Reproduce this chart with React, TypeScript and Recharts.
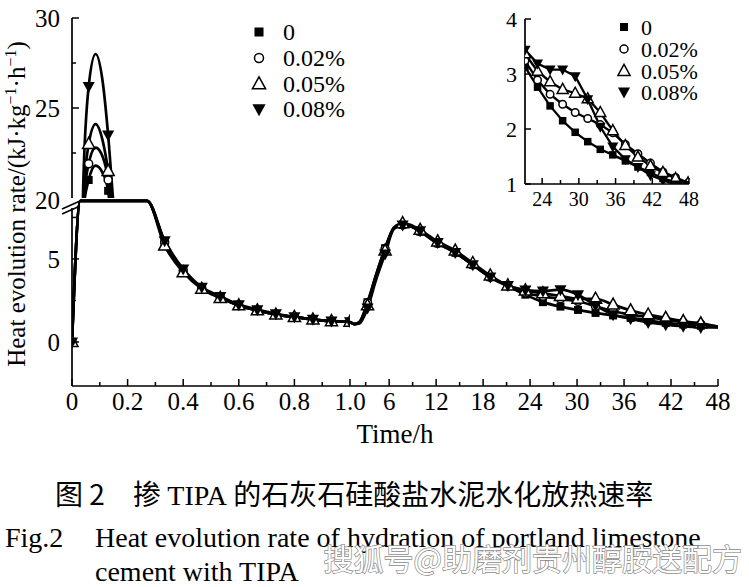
import React from 'react';
import { LineChart, Line, XAxis, YAxis } from 'recharts';

const FONT = '"Liberation Serif", "Times New Roman", serif';
const CJK = '"Noto Sans CJK SC", sans-serif';

// ---------------- data ----------------
const seriesNames = ['0', '0.02%', '0.05%', '0.08%'];
const seriesKinds = ['square', 'circle', 'up', 'down'];

// 0 – 1 h (left part of the broken time axis)
const earlyTime = [0, 0.03, 0.04, 0.06, 0.085, 0.11, 0.13, 0.15, 0.2, 0.27, 0.3333, 0.4, 0.4667, 0.5333, 0.6, 0.6667, 0.7333, 0.8, 0.8667, 0.9333, 1.0];
const earlyRate0 = [0, 10, 19.2, 21.0, 21.8, 21.4, 20.4, 17, 12, 8.7, 6.0, 4.3, 3.25, 2.7, 2.2, 1.9, 1.65, 1.5, 1.35, 1.25, 1.22];
const earlyRate002 = [0, 10, 19.5, 21.9, 22.8, 22.3, 21.0, 18, 12.5, 8.7, 6.0, 4.3, 3.25, 2.7, 2.2, 1.9, 1.65, 1.5, 1.35, 1.25, 1.22];
const earlyRate005 = [0, 10, 19.8, 23.0, 24.1, 23.2, 21.5, 19, 13, 8.8, 5.8, 4.2, 3.2, 2.65, 2.2, 1.9, 1.65, 1.5, 1.35, 1.25, 1.22];
const earlyRate008 = [0, 10, 20.5, 26.2, 28.0, 26.5, 23.5, 19.5, 13.5, 8.8, 6.1, 4.4, 3.3, 2.75, 2.25, 1.95, 1.7, 1.52, 1.37, 1.27, 1.22];
const earlyMarkTimes = [0, 0.06, 0.13, 0.3333, 0.4, 0.4667, 0.5333, 0.6, 0.6667, 0.7333, 0.8, 0.8667, 0.9333, 1.0];

// 1 – 48 h (right part of the broken time axis)
const lateTime = [1.0, 1.6, 2.2, 3.24, 4.3, 5.48, 6.6, 7.72, 8.8, 9.96, 12.2, 14.44, 16.68, 18.92, 21.16, 23.4, 25.64, 27.88, 30.12, 32.36, 34.6, 36.84, 39.08, 41.32, 43.56, 45.8, 48];
const lateRate0 = [1.22, 1.08, 1.2, 2.4, 4.0, 5.65, 6.85, 7.05, 6.95, 6.65, 5.94, 5.38, 4.64, 3.9, 3.37, 2.85, 2.4, 2.13, 1.93, 1.75, 1.6, 1.45, 1.3, 1.15, 1.05, 0.98, 0.9];
const lateRate002 = [1.22, 1.08, 1.2, 2.35, 4.0, 5.6, 6.85, 7.05, 6.95, 6.65, 5.94, 5.38, 4.64, 3.9, 3.37, 2.95, 2.75, 2.6, 2.45, 2.15, 1.85, 1.65, 1.5, 1.35, 1.2, 1.08, 0.92];
const lateRate005 = [1.22, 1.08, 1.18, 2.2, 3.9, 5.5, 6.9, 7.15, 7.05, 6.75, 6.05, 5.5, 4.75, 4.0, 3.4, 3.1, 2.93, 2.77, 2.6, 2.6, 2.25, 1.9, 1.65, 1.45, 1.25, 1.12, 0.92];
const lateRate008 = [1.22, 1.08, 1.12, 2.05, 3.7, 5.3, 6.8, 7.05, 6.95, 6.7, 6.0, 5.4, 4.65, 3.92, 3.4, 3.13, 3.07, 3.15, 2.85, 2.2, 1.65, 1.4, 1.18, 1.05, 0.95, 0.88, 0.88];
const lateMarkTimes = [3.24, 5.48, 7.72, 9.96, 12.2, 14.44, 16.68, 18.92, 21.16, 23.4, 25.64, 27.88, 30.12, 32.36, 34.6, 36.84, 39.08, 41.32, 43.56, 45.8];

// inset: 21 – 48 h
const insetTime = [21.2, 23.25, 25.3, 27.35, 29.4, 31.45, 33.5, 35.55, 37.6, 39.65, 41.7, 43.75, 45.8, 47.85];
const insetRate0 = [3.13, 2.76, 2.42, 2.15, 1.94, 1.77, 1.63, 1.53, 1.42, 1.31, 1.21, 1.1, 1.04, 0.99];
const insetRate002 = [3.24, 2.89, 2.63, 2.45, 2.3, 2.19, 2.08, 1.93, 1.72, 1.55, 1.38, 1.22, 1.12, 1.02];
const insetRate005 = [3.37, 3.05, 2.86, 2.72, 2.65, 2.55, 2.3, 1.97, 1.7, 1.49, 1.33, 1.21, 1.1, 1.02];
const insetRate008 = [3.44, 3.19, 3.08, 3.08, 2.96, 2.54, 2.04, 1.68, 1.45, 1.31, 1.16, 1.07, 0.99, 0.98];

// axis ticks
const leftTicks = [0, 0.1, 0.2, 0.3, 0.4, 0.5, 0.6, 0.7, 0.8, 0.9, 1.0];
const leftMajor = [0, 0.2, 0.4, 0.6, 0.8, 1.0];
const rightTicks = [3, 6, 9, 12, 15, 18, 21, 24, 27, 30, 33, 36, 39, 42, 45, 48];
const rightMajor = [6, 12, 18, 24, 30, 36, 42, 48];
const upperYTicks = [20, 22.5, 25, 27.5, 30];
const upperYMajor = [20, 25, 30];
const lowerYTicks = [0, 2.5, 5, 7.5];
const lowerYMajor = [0, 5];
const insetXTicks = [24, 27, 30, 33, 36, 39, 42, 45, 48];
const insetXMajor = [24, 30, 36, 42, 48];
const insetYTicks = [1, 2, 3, 4];

// ---------------- layout ----------------
const W = 749;
const H = 587;
const LOWER_DOMAIN: [number, number] = [-2.65, 8.61];
const BREAK_VALUE = 8.5;
const UPPER_DOMAIN: [number, number] = [20, 30];
const MAIN_STROKE = 2.7;

type Row = { t: number; v: number; raw: number; m: boolean };
const isIn = (arr: number[], v: number) => arr.some((a) => Math.abs(a - v) < 1e-6);
function rows(times: number[], vals: number[], marks: number[] | null, clampTop?: number): Row[] {
  return times.map((t, i) => ({
    t,
    raw: vals[i],
    v: clampTop === undefined ? vals[i] : Math.min(vals[i], clampTop),
    m: marks === null ? true : isIn(marks, t),
  }));
}

const earlyVals = [earlyRate0, earlyRate002, earlyRate005, earlyRate008];
const lateVals = [lateRate0, lateRate002, lateRate005, lateRate008];
const insetVals = [insetRate0, insetRate002, insetRate005, insetRate008];

function Marker({ kind, cx, cy, s }: { kind: string; cx: number; cy: number; s: number }) {
  const sw = 1.5;
  if (kind === 'square') return <rect x={cx - s / 2} y={cy - s / 2} width={s} height={s} fill="#000" />;
  if (kind === 'circle') return <circle cx={cx} cy={cy} r={s / 2} fill="#fff" stroke="#000" strokeWidth={sw} />;
  const w = s * 1.1;
  const h = s;
  if (kind === 'up')
    return (
      <polygon
        points={`${cx},${cy - h * 0.6} ${cx - w / 2},${cy + h * 0.4} ${cx + w / 2},${cy + h * 0.4}`}
        fill="#fff"
        stroke="#000"
        strokeWidth={sw}
      />
    );
  return <polygon points={`${cx},${cy + h * 0.6} ${cx - w / 2},${cy - h * 0.4} ${cx + w / 2},${cy - h * 0.4}`} fill="#000" />;
}

function dotFor(kind: string, size: number, ok: (r: Row) => boolean) {
  return (p: any) => {
    const r: Row = p.payload;
    if (!r || !r.m || !ok(r) || p.cx == null || p.cy == null) return <g key={`e${p.index}`} />;
    return <Marker key={`d${p.index}`} kind={kind} cx={p.cx} cy={p.cy} s={size} />;
  };
}

function xTick(major: number[], fmt: (v: number) => string, fs: number, labelDy: number, majLen: number, minLen: number) {
  return (p: any) => {
    const v = p.payload.value;
    const M = isIn(major, v);
    return (
      <g>
        <line x1={p.x} x2={p.x} y1={p.y} y2={p.y - (M ? majLen : minLen)} stroke="#000" strokeWidth={1.5} />
        {M && (
          <text x={p.x} y={p.y + labelDy} textAnchor="middle" fontFamily={FONT} fontSize={fs} fill="#000">
            {fmt(v)}
          </text>
        )}
      </g>
    );
  };
}

function yTick(major: number[], fs: number, gap: number, majLen: number, minLen: number, breakAt?: number) {
  return (p: any) => {
    const v = p.payload.value;
    const M = isIn(major, v);
    const isBreak = breakAt !== undefined && Math.abs(v - breakAt) < 1e-6;
    return (
      <g>
        {!isBreak && <line x1={p.x} x2={p.x + (M ? majLen : minLen)} y1={p.y} y2={p.y} stroke="#000" strokeWidth={1.5} />}
        {isBreak && (
          <g>
            <rect x={p.x - 3} y={p.y + 1} width={6} height={9} fill="#fff" />
            <line x1={p.x - 10} y1={p.y + 11} x2={p.x + 8} y2={p.y + 3} stroke="#000" strokeWidth={1.5} />
            <line x1={p.x - 10} y1={p.y + 16} x2={p.x + 8} y2={p.y + 8} stroke="#000" strokeWidth={1.5} />
          </g>
        )}
        {M && (
          <text x={p.x - gap} y={p.y + (isBreak ? 2 : 0)} dy="0.35em" textAnchor="end" fontFamily={FONT} fontSize={fs} fill="#000">
            {String(v)}
          </text>
        )}
      </g>
    );
  };
}

const layer: React.CSSProperties = { position: 'absolute', left: 0, top: 0 };
const axisLine = { stroke: '#000', strokeWidth: 1.7 };

// plot rectangle helpers: axis width/height of 1px are taken out of the margins
function margins(left: number, top: number, right: number, bottom: number) {
  return { left: left - 1, top, right: W - right, bottom: H - bottom - 1 };
}

function LowerLeft() {
  return (
    <div style={layer}>
      <LineChart width={W} height={H} margin={margins(72, 199, 350, 386)}>
        <XAxis
          type="number"
          dataKey="t"
          domain={[0, 1]}
          ticks={leftTicks}
          interval={0}
          height={1}
          tickSize={0}
          tickMargin={0}
          tickLine={false}
          axisLine={axisLine}
          allowDataOverflow
          tick={xTick(leftMajor, (v) => (v === 0 ? '0' : v.toFixed(1)), 25, 24, 7, 4)}
        />
        <YAxis
          type="number"
          domain={LOWER_DOMAIN}
          ticks={lowerYTicks}
          interval={0}
          width={1}
          tickSize={0}
          tickMargin={0}
          tickLine={false}
          axisLine={axisLine}
          allowDataOverflow
          tick={yTick(lowerYMajor, 25, 12, 7, 4)}
        />
        {seriesKinds.map((k, i) => (
          <Line
            key={k}
            data={rows(earlyTime, earlyVals[i], earlyMarkTimes, BREAK_VALUE)}
            dataKey="v"
            name={seriesNames[i]}
            type="monotone"
            stroke="#000"
            strokeWidth={MAIN_STROKE}
            dot={dotFor(k, k === 'square' || k === 'circle' ? 8 : 11, (r) => r.raw <= BREAK_VALUE)}
            activeDot={false}
            isAnimationActive={false}
          />
        ))}
      </LineChart>
    </div>
  );
}

function LowerRight() {
  return (
    <div style={layer}>
      <LineChart width={W} height={H} margin={margins(350, 199, 718, 386)}>
        <XAxis
          type="number"
          dataKey="t"
          domain={[1, 48]}
          ticks={rightTicks}
          interval={0}
          height={1}
          tickSize={0}
          tickMargin={0}
          tickLine={false}
          axisLine={axisLine}
          allowDataOverflow
          tick={xTick(rightMajor, (v) => String(v), 25, 24, 7, 4)}
        />
        <YAxis type="number" domain={LOWER_DOMAIN} width={1} axisLine={false} tickLine={false} tick={false} allowDataOverflow />
        {seriesKinds.map((k, i) => (
          <Line
            key={k}
            data={rows(lateTime, lateVals[i], lateMarkTimes)}
            dataKey="v"
            name={seriesNames[i]}
            type="monotone"
            stroke="#000"
            strokeWidth={MAIN_STROKE}
            dot={dotFor(k, k === 'square' || k === 'circle' ? 8 : 11, () => true)}
            activeDot={false}
            isAnimationActive={false}
          />
        ))}
      </LineChart>
    </div>
  );
}

function Upper() {
  return (
    <div style={layer}>
      <LineChart width={W} height={H} margin={margins(72, 18, 350, 198)}>
        <XAxis type="number" dataKey="t" domain={[0, 1]} height={1} axisLine={false} tickLine={false} tick={false} allowDataOverflow />
        <YAxis
          type="number"
          domain={UPPER_DOMAIN}
          ticks={upperYTicks}
          interval={0}
          width={1}
          tickSize={0}
          tickMargin={0}
          tickLine={false}
          axisLine={axisLine}
          allowDataOverflow
          tick={yTick(upperYMajor, 25, 12, 7, 4, 20)}
        />
        {seriesKinds.map((k, i) => (
          <Line
            key={k}
            data={rows(earlyTime, earlyVals[i], earlyMarkTimes)}
            dataKey="v"
            name={seriesNames[i]}
            type="monotone"
            stroke="#000"
            strokeWidth={MAIN_STROKE}
            dot={dotFor(k, k === 'square' || k === 'circle' ? 8 : 11, (r) => r.raw >= UPPER_DOMAIN[0])}
            activeDot={false}
            isAnimationActive={false}
          />
        ))}
      </LineChart>
    </div>
  );
}

function Inset() {
  return (
    <div style={layer}>
      <LineChart width={W} height={H} margin={margins(525, 19, 689, 184)}>
        <XAxis
          type="number"
          dataKey="t"
          domain={[21.2, 48]}
          ticks={insetXTicks}
          interval={0}
          height={1}
          tickSize={0}
          tickMargin={0}
          tickLine={false}
          axisLine={axisLine}
          allowDataOverflow
          tick={xTick(insetXMajor, (v) => String(v), 20, 22, 6, 4)}
        />
        <YAxis
          type="number"
          domain={[1, 4]}
          ticks={insetYTicks}
          interval={0}
          width={1}
          tickSize={0}
          tickMargin={0}
          tickLine={false}
          axisLine={axisLine}
          allowDataOverflow
          tick={yTick(insetYTicks, 22, 8, 6, 4)}
        />
        {seriesKinds.map((k, i) => (
          <Line
            key={k}
            data={rows(insetTime, insetVals[i], null)}
            dataKey="v"
            name={seriesNames[i]}
            type="linear"
            stroke="#000"
            strokeWidth={2.3}
            dot={dotFor(k, k === 'square' || k === 'circle' ? 7.5 : 10, () => true)}
            activeDot={false}
            isAnimationActive={false}
          />
        ))}
      </LineChart>
    </div>
  );
}

function LegendBlock({ x, tx, ys, fs, ms }: { x: number; tx: number; ys: number[]; fs: number; ms: number[] }) {
  return (
    <g>
      {seriesNames.map((n, i) => (
        <g key={n}>
          <Marker kind={seriesKinds[i]} cx={x} cy={ys[i]} s={ms[i]} />
          <text x={tx} y={ys[i]} dy="0.35em" fontFamily={FONT} fontSize={fs} fill="#000">
            {n}
          </text>
        </g>
      ))}
    </g>
  );
}

function Overlay() {
  return (
    <svg width={W} height={H} style={{ ...layer, pointerEvents: 'none' }}>
      <LegendBlock x={259} tx={283} ys={[32, 58, 84, 109]} fs={24} ms={[9, 9, 12, 12]} />
      <LegendBlock x={624} tx={641} ys={[27, 49, 71, 92]} fs={22} ms={[8, 8, 11, 11]} />
      <text transform="translate(25,204) rotate(-90)" textAnchor="middle" fontFamily={FONT} fontSize={25} fill="#000">
        Heat evolution rate/(kJ·kg
        <tspan dy={-9} fontSize={16}>−1</tspan>
        <tspan dy={9}>·h</tspan>
        <tspan dy={-9} fontSize={16}>−1</tspan>
        <tspan dy={9}>)</tspan>
      </text>
      <text x={395} y={443} textAnchor="middle" fontFamily={FONT} fontSize={27} fill="#000">
        Time/h
      </text>
      <text x={55} y={505} fontFamily={CJK} fontSize={28} fill="#000">
        图 2
      </text>
      <text x={133} y={505} fontFamily={CJK} fontSize={28} fill="#000">
        掺 <tspan fontFamily={FONT}>TIPA</tspan> 的石灰石硅酸盐水泥水化放热速率
      </text>
      <text x={5} y={547} fontFamily={FONT} fontSize={28} fill="#000">
        Fig.2
      </text>
      <text x={95} y={547} fontFamily={FONT} fontSize={28} fill="#000">
        Heat evolution rate of hydration of portland limestone
      </text>
      <text x={95} y={581} fontFamily={FONT} fontSize={28} fill="#000">
        cement with TIPA
      </text>
      <text
        x={742}
        y={570}
        textAnchor="end"
        fontFamily={CJK}
        fontSize={30}
        fill="#fff"
        stroke="#8a8a8a"
        strokeWidth={1.4}
        style={{ paintOrder: 'stroke' }}
      >
        搜狐号@助磨剂贵州醇胺送配方
      </text>
    </svg>
  );
}

export default function App() {
  return (
    <div style={{ position: 'absolute', left: 0, top: 0, width: W, height: H, background: '#fff', overflow: 'hidden' }}>
      <LowerLeft />
      <LowerRight />
      <Upper />
      <Inset />
      <Overlay />
    </div>
  );
}
